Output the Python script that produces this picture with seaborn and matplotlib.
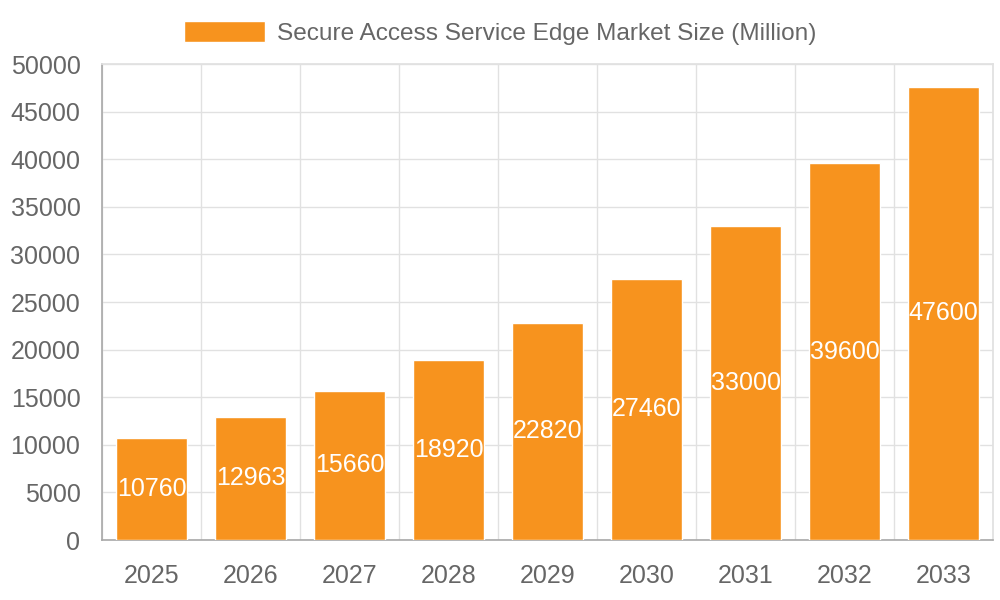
import matplotlib
matplotlib.use("Agg")
import matplotlib.pyplot as plt
import seaborn as sns
import pandas as pd

years = ["2025", "2026", "2027", "2028", "2029", "2030", "2031", "2032", "2033"]
market_size = [10760, 12963, 15660, 18920, 22820, 27460, 33000, 39600, 47600]
series_name = "Secure Access Service Edge Market Size (Million)"

bar_color = "#F7931E"
text_color = "#666666"
grid_color = "#e1e1e1"
axis_color = "#a8a8a8"

sns.set_theme(style="white")
plt.rcParams["font.family"] = ["Liberation Sans", "DejaVu Sans"]

df = pd.DataFrame({"year": years, "value": market_size})

fig = plt.figure(figsize=(10, 6), dpi=100)
ax = fig.add_axes([0.102, 0.1, 0.891, 0.7933])

sns.barplot(data=df, x="year", y="value", color=bar_color, saturation=1,
            width=0.72, ax=ax, label=series_name, zorder=3)

for c in ax.containers:
    ax.bar_label(c, labels=[str(v) for v in market_size], label_type="center",
                 color="white", fontsize=18, zorder=4)

ax.set_ylim(0, 50000)
ax.set_xlim(-0.5, len(years) - 0.5)
ax.set_yticks(range(0, 50001, 5000))
ax.set_xlabel("")
ax.set_ylabel("")

# category boundaries as grid lines (Chart.js style offset grid)
ax.set_xticks([i - 0.5 for i in range(len(years) + 1)], minor=True)
ax.grid(True, which="minor", axis="x", color=grid_color, linewidth=1, zorder=0)
ax.grid(True, which="major", axis="y", color=grid_color, linewidth=1, zorder=0)
ax.grid(False, which="major", axis="x")

ax.tick_params(axis="x", which="major", length=0, pad=17, labelsize=18, labelcolor=text_color)
ax.tick_params(axis="x", which="minor", length=13, width=1, color=grid_color)
ax.tick_params(axis="y", which="major", length=14.5, width=1, color=grid_color,
               pad=1, labelsize=18, labelcolor=text_color)

for side in ["top", "right"]:
    ax.spines[side].set_color(grid_color)
for side in ["left", "bottom"]:
    ax.spines[side].set_color(axis_color)
    ax.spines[side].set_linewidth(1.2)

ax.legend(loc="center", bbox_to_anchor=(0.5, 0.945), bbox_transform=fig.transFigure,
          frameon=False, fontsize=17.6, labelcolor=text_color,
          handlelength=3.3, handleheight=0.95, handletextpad=0.5)

fig.savefig("out.png", dpi=100)
